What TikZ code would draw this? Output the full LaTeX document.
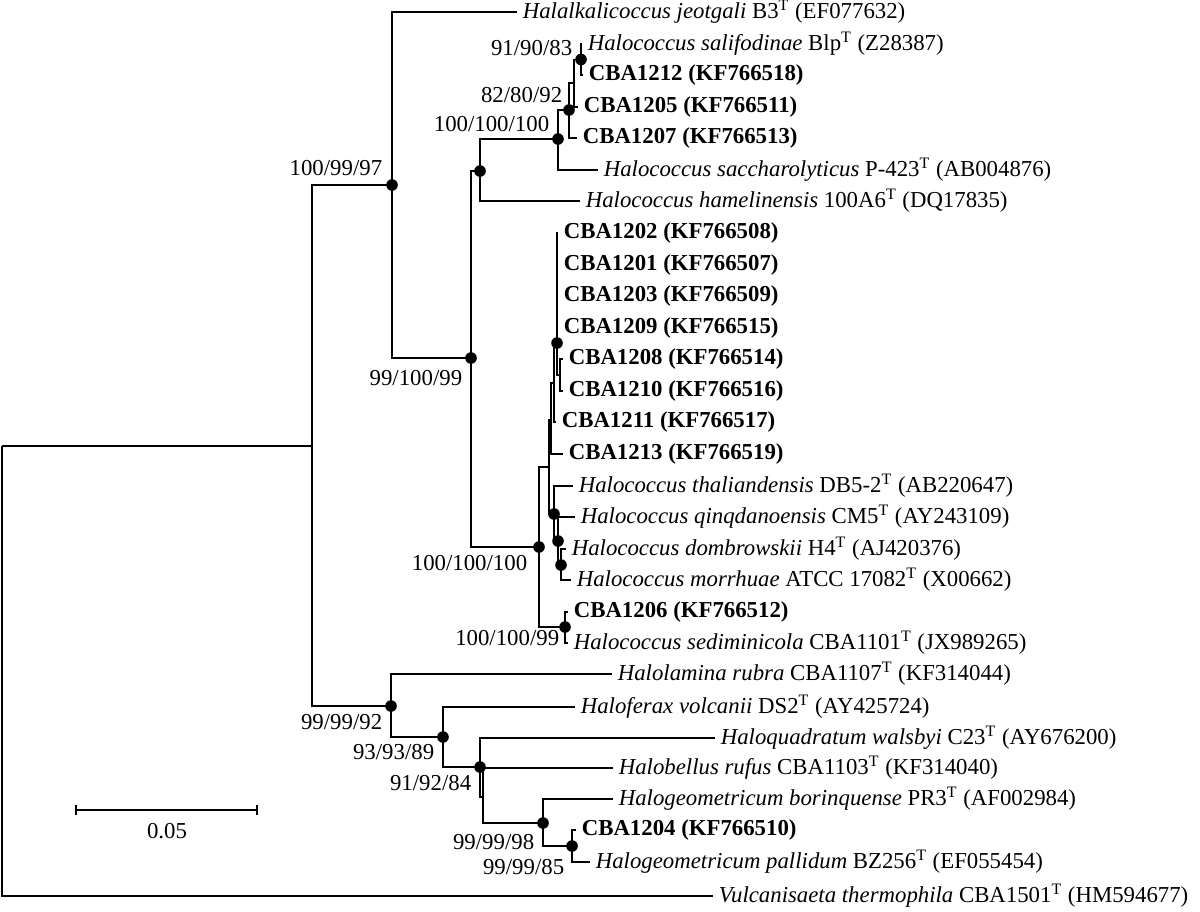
\documentclass[tikz,border=0pt]{standalone}
\usepackage{fontspec}
\setmainfont{Liberation Serif}
\begin{document}
\begin{tikzpicture}[x=0.5pt,y=-0.5pt, line width=0.85pt,
  leaf/.style={anchor=west, inner xsep=2.5pt, inner ysep=0pt, font=\fontsize{11.4}{13}\selectfont},
  cba/.style={leaf, font=\fontsize{11.4}{13}\selectfont\bfseries},
  bs/.style={anchor=east, inner sep=0pt, font=\fontsize{11.4}{13}\selectfont},
  branch/.style={draw=black, line width=0.85pt}]
\fill[white] (0,0) rectangle (1200,911);
\useasboundingbox (0,0) rectangle (1200,911);
% leaves
\node[leaf] (l0) at (517,12) {\textit{Halalkalicoccus jeotgali} B3\textsuperscript{T} (EF077632)};
\node[leaf] (l1) at (582,44) {\textit{Halococcus salifodinae} Blp\textsuperscript{T} (Z28387)};
\node[cba] (l2) at (583,75) {CBA1212 (KF766518)};
\node[cba] (l3) at (578,107) {CBA1205 (KF766511)};
\node[cba] (l4) at (577,138) {CBA1207 (KF766513)};
\node[leaf] (l5) at (598,170) {\textit{Halococcus saccharolyticus} P-423\textsuperscript{T} (AB004876)};
\node[leaf] (l6) at (580,201) {\textit{Halococcus hamelinensis} 100A6\textsuperscript{T} (DQ17835)};
\node[cba] (l7) at (558,233) {CBA1202 (KF766508)};
\node[cba] (l8) at (558,265) {CBA1201 (KF766507)};
\node[cba] (l9) at (558,296) {CBA1203 (KF766509)};
\node[cba] (l10) at (558,328) {CBA1209 (KF766515)};
\node[cba] (l11) at (563,359) {CBA1208 (KF766514)};
\node[cba] (l12) at (563,391) {CBA1210 (KF766516)};
\node[cba] (l13) at (556,422) {CBA1211 (KF766517)};
\node[cba] (l14) at (563,454) {CBA1213 (KF766519)};
\node[leaf] (l15) at (573,486) {\textit{Halococcus thaliandensis} DB5-2\textsuperscript{T} (AB220647)};
\node[leaf] (l16) at (575,517) {\textit{Halococcus qinqdanoensis} CM5\textsuperscript{T} (AY243109)};
\node[leaf] (l17) at (566,549) {\textit{Halococcus dombrowskii} H4\textsuperscript{T} (AJ420376)};
\node[leaf] (l18) at (571,580) {\textit{Halococcus morrhuae} ATCC 17082\textsuperscript{T} (X00662)};
\node[cba] (l19) at (568,612) {CBA1206 (KF766512)};
\node[leaf] (l20) at (568,643) {\textit{Halococcus sediminicola} CBA1101\textsuperscript{T} (JX989265)};
\node[leaf] (l21) at (612,674) {\textit{Halolamina rubra} CBA1107\textsuperscript{T} (KF314044)};
\node[leaf] (l22) at (575,707) {\textit{Haloferax volcanii} DS2\textsuperscript{T} (AY425724)};
\node[leaf] (l23) at (715,738) {\textit{Haloquadratum walsbyi} C23\textsuperscript{T} (AY676200)};
\node[leaf] (l24) at (613,768) {\textit{Halobellus rufus} CBA1103\textsuperscript{T} (KF314040)};
\node[leaf] (l25) at (613,799) {\textit{Halogeometricum borinquense} PR3\textsuperscript{T} (AF002984)};
\node[cba] (l26) at (576,830) {CBA1204 (KF766510)};
\node[leaf] (l27) at (590,862) {\textit{Halogeometricum pallidum} BZ256\textsuperscript{T} (EF055454)};
\node[leaf] (l28) at (713,896) {\textit{Vulcanisaeta thermophila} CBA1501\textsuperscript{T} (HM594677)};
% internal nodes
\coordinate (root) at (2,446);
\coordinate (R1) at (312,446);
\coordinate (Na) at (392,185);
\coordinate (Nb) at (471,358);
\coordinate (Nc) at (480,171);
\coordinate (U100) at (558,139);
\coordinate (A) at (569,110);
\coordinate (B) at (574,83);
\coordinate (C) at (581,59.5);
\coordinate (L100) at (539,547);
\coordinate (E) at (549,467);
\coordinate (G) at (551,420);
\coordinate (P) at (554,383);
\coordinate (Q) at (557,343);
\coordinate (R) at (560,375);
\coordinate (H) at (554,514);
\coordinate (J) at (558,541);
\coordinate (I) at (561,565);
\coordinate (F) at (565,627);
\coordinate (N1) at (391,706);
\coordinate (N2) at (443,737);
\coordinate (N3) at (480,767);
\coordinate (N3b) at (483,797);
\coordinate (N4) at (543,823);
\coordinate (N5) at (572,846);
% branches
\path[branch] (root) |- (R1);
\path[branch] (root) |- (l28.west);
\path[branch] (R1) |- (Na);
\path[branch] (R1) |- (N1);
\path[branch] (Na) |- (l0.west);
\path[branch] (Na) |- (Nb);
\path[branch] (Nb) |- (Nc);
\path[branch] (Nb) |- (L100);
\path[branch] (Nc) |- (U100);
\path[branch] (Nc) |- (l6.west);
\path[branch] (U100) |- (A);
\path[branch] (U100) |- (l5.west);
\path[branch] (A) |- (B);
\path[branch] (A) |- (l4.west);
\path[branch] (B) |- (C);
\path[branch] (B) |- (l3.west);
\path[branch] (C) |- (l1.west);
\path[branch] (C) |- (l2.west);
\path[branch] (L100) |- (E);
\path[branch] (L100) |- (F);
\path[branch] (E) |- (G);
\path[branch] (E) |- (H);
\path[branch] (G) |- (P);
\path[branch] (G) |- (l14.west);
\path[branch] (P) |- (Q);
\path[branch] (P) |- (l13.west);
\foreach \l in {l7,l8,l9,l10} {\path[branch] (Q) |- (\l.west);}
\path[branch] (Q) |- (R);
\path[branch] (R) |- (l11.west);
\path[branch] (R) |- (l12.west);
\path[branch] (H) |- (l15.west);
\path[branch] (H) |- (J);
\path[branch] (J) |- (l16.west);
\path[branch] (J) |- (I);
\path[branch] (I) |- (l17.west);
\path[branch] (I) |- (l18.west);
\path[branch] (F) |- (l19.west);
\path[branch] (F) |- (l20.west);
\path[branch] (N1) |- (l21.west);
\path[branch] (N1) |- (N2);
\path[branch] (N2) |- (l22.west);
\path[branch] (N2) |- (N3);
\path[branch] (N3) |- (l23.west);
\path[branch] (N3) |- (N3b);
\path[branch] (N3b) |- (l24.west);
\path[branch] (N3b) |- (N4);
\path[branch] (N4) |- (l25.west);
\path[branch] (N4) |- (N5);
\path[branch] (N5) |- (l26.west);
\path[branch] (N5) |- (l27.west);
% dots
\foreach \n in {Na,Nb,Nc,U100,A,C,Q,H,J,I,L100,F,N1,N2,N3,N4,N5} {\fill (\n) circle (2.9pt);}
% bootstrap labels
\node[bs] (b1) at (383,168) {100/99/97};
\node[bs] (b2) at (463,378) {99/100/99};
\node[bs] (b3) at (550,124) {100/100/100};
\node[bs] (b4) at (563,95) {82/80/92};
\node[bs] (b5) at (573,48) {91/90/83};
\node[bs] (b6) at (528,563) {100/100/100};
\node[bs] (b7) at (560,638) {100/100/99};
\node[bs] (b8) at (383,722) {99/99/92};
\node[bs] (b9) at (435,752) {93/93/89};
\node[bs] (b10) at (472,783) {91/92/84};
\node[bs] (b11) at (535,842) {99/99/98};
\node[bs] (b12) at (565,867) {99/99/85};
% scale bar
\coordinate (sb1) at (76,810);
\coordinate (sb2) at (257,810);
\draw[line width=0.85pt] ([yshift=2.5pt]sb1) -- ([yshift=-2.5pt]sb1);
\draw[line width=0.85pt] ([yshift=2.5pt]sb2) -- ([yshift=-2.5pt]sb2);
\draw[line width=0.85pt] (sb1) -- (sb2);
\node[font=\fontsize{11.4}{13}\selectfont] (sbl) at (167,831) {0.05};
\end{tikzpicture}
\end{document}
